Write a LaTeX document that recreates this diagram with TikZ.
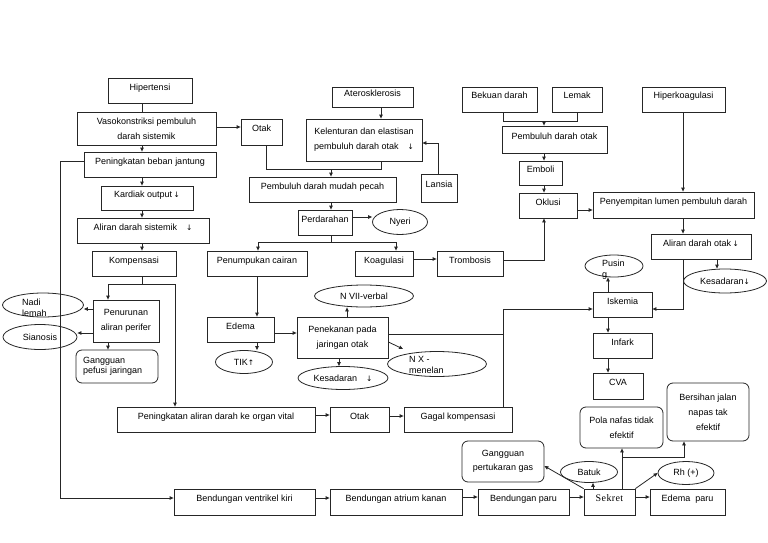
\documentclass[tikz,border=0pt]{standalone}
\usepackage{fontspec}
\setmainfont{Liberation Sans}
\newfontfamily\symf{DejaVu Sans}
\newfontfamily\serf{Liberation Serif}
\usetikzlibrary{arrows.meta,shapes.geometric}
\newcommand\dnarr{{\symf\fontsize{7.5}{7.5}\selectfont ↓}}
\newcommand\uparr{{\symf\fontsize{7.5}{7.5}\selectfont ↑}}
\tikzset{
  every node/.style={font=\fontsize{9}{15}\selectfont},
  bbase/.style={draw=black!85, line width=0.8pt, rectangle, inner sep=1pt, align=center},
  box/.style={text height=7pt, text depth=8pt},
  rbox/.style={rounded corners=6pt},
  ell/.style={draw=black!85, ellipse, inner sep=0pt, line width=0.8pt, align=center},
  arr/.style={-{Triangle[length=4pt,width=3.5pt]}, line width=0.8pt, draw=black!85},
  ln/.style={line width=0.8pt, draw=black!85},
  freetext/.style={anchor=north west, inner sep=0pt, align=left, font=\fontsize{9}{10.7}\selectfont}
}
\newcommand\bx[7][box]{\node[bbase,minimum width={#5-#3},minimum height={#6-#4},#1] (#2) at ({(#3+#5)/2},{(#4+#6)/2}) {#7};}
\newcommand\el[7][]{\node[ell,minimum width={#5},minimum height={#6},#1] (#2) at (#3,#4) {#7};}
\begin{document}
\begin{tikzpicture}[x=1pt,y=-1pt]
\fill[white] (0,0) rectangle (768,543);
\useasboundingbox (0,0) rectangle (768,543);
% left column
\bx{hip}{108}{78}{192}{103}{Hipertensi}
\bx[]{vaso}{77}{112}{216}{145}{Vasokonstriksi pembuluh\\darah sistemik}
\bx{otaka}{241}{119}{282}{145}{Otak}
\bx{peb}{84}{152}{216}{177}{Peningkatan beban jantung}
\bx{kard}{101}{186}{193}{210}{Kardiak output\,\dnarr}
\bx{ads}{77}{218}{209}{243}{Aliran darah sistemik\quad\dnarr}
\bx{komp}{92}{251}{176}{276}{Kompensasi}
\bx[]{pen}{93}{300}{159}{342}{Penurunan\\aliran perifer}
\bx[rbox,text width=68pt,align=left,font=\fontsize{9}{10.5}\selectfont]{gpj}{76}{350}{158}{383}{Gangguan\\pefusi jaringan}
\el{nadi}{43}{305}{81}{24}{}
\node[freetext] (nadit) at (22,299) {Nadi\\lemah};
\el{sia}{40}{337}{74}{25}{Sianosis}
\bx{pad}{117}{407}{315}{432}{Peningkatan aliran darah ke organ vital}
\bx{otakb}{330}{407}{389}{432}{Otak}
\bx{gagal}{404}{407}{512}{432}{Gagal kompensasi}
% middle
\bx{ater}{332}{87}{413}{107}{Aterosklerosis}
\bx[]{kel}{306}{119}{422}{161}{Kelenturan dan elastisan\\pembuluh darah otak\quad\dnarr}
\bx{lansia}{421}{174}{457}{202}{Lansia}
\bx{mpec}{249}{177}{396}{202}{Pembuluh darah mudah pecah}
\bx{perd}{298}{210}{352}{235}{Perdarahan}
\el{nyeri}{400}{222}{55}{25}{Nyeri}
\bx{pcair}{207}{251}{307}{276}{Penumpukan cairan}
\bx{koag}{355}{251}{413}{276}{Koagulasi}
\bx{tromb}{437}{251}{503}{276}{Trombosis}
\bx{edema}{207}{317}{274}{342}{Edema}
\el{tik}{244}{362}{57}{23}{TIK\uparr}
\bx[]{pnk}{297}{317}{388}{358}{Penekanan pada\\jaringan otak}
\el{nvii}{364}{296}{99}{22}{N VII-verbal}
\el{nx}{437}{364}{99}{25}{}
\node[freetext] (nxt) at (409,356.5) {N X -\\menelan};
\el{kesa}{343}{378}{90}{23}{Kesadaran\quad\dnarr}
% right
\bx{bek}{462}{87}{537}{112}{Bekuan darah}
\bx{lemak}{552}{87}{602}{112}{Lemak}
\bx{pdo}{502}{126}{607}{153}{Pembuluh darah otak}
\bx{emb}{519}{161}{562}{185}{Emboli}
\bx{okl}{519}{193}{577}{218}{Oklusi}
\bx{peny}{593}{192}{754}{218}{Penyempitan lumen pembuluh darah}
\bx{hiper}{642}{87}{725}{112}{Hiperkoagulasi}
\bx{ado}{651}{234}{751}{259}{Aliran darah otak\,\dnarr}
\el{kesb}{725}{281}{83}{24}{Kesadaran\dnarr}
\el{pus}{614}{266}{58}{22}{}
\node[freetext,font=\fontsize{9}{11.7}\selectfont] (pust) at (602,259.3) {Pusin\\g};
\bx{isk}{593}{292}{652}{317}{Iskemia}
\bx{inf}{593}{333}{652}{358}{Infark}
\bx{cva}{593}{373}{643}{399}{CVA}
% bottom
\bx{bvk}{174}{489}{315}{515}{Bendungan ventrikel kiri}
\bx{bak}{330}{489}{462}{515}{Bendungan atrium kanan}
\bx{bpar}{478}{489}{569}{515}{Bendungan paru}
\bx{sek}{584}{489}{635}{515}{\serf\fontsize{10}{15}\selectfont S\kern0.4pt e\kern0.4pt k\kern0.4pt r\kern0.4pt e\kern0.4pt t}
\bx{edp}{650}{489}{725}{515}{Edema\ \ paru}
\bx[rbox,font=\fontsize{9}{14}\selectfont]{ggas}{462}{441}{544}{482}{Gangguan\\pertukaran gas}
\el{batuk}{589}{472}{57}{21}{Batuk}
\bx[rbox]{pola}{580}{407}{663}{448}{Pola nafas tidak\\efektif}
\bx[rbox]{bers}{667}{383}{749}{441}{Bersihan jalan\\napas tak\\efektif}
\el{rh}{686}{473}{56}{23}{Rh (+)}
% junction coordinates
\coordinate (kj) at (142,284);
\coordinate (gj) at (503,309);
\coordinate (oj) at (331,169);
\coordinate (pj) at (331,242);
\coordinate (nxtip) at (403,349);
\coordinate (bj) at (544,121);
\coordinate (sj) at (622,457);
% connectors left
\draw[ln] (hip.south -| 142,0) -- (vaso.north -| 142,0);
\draw[arr] (vaso.east |- 0,127) -- (otaka.west |- 0,127);
\draw[arr] (vaso.south -| 142,0) -- (peb.north -| 142,0);
\draw[arr] (peb.west |- 0,161) -- (60,161) |- (bvk.west |- 0,498);
\draw[arr] (peb.south -| 142,0) -- (kard.north -| 142,0);
\draw[arr] (kard.south -| 142,0) -- (ads.north -| 142,0);
\draw[arr] (ads.south -| 142,0) -- (komp.north -| 142,0);
\draw[arr] (komp.south -| kj) -- (kj) -| (pen.north -| 108,0);
\draw[arr] (kj) -| (pad.north -| 175,0);
\draw[arr] (pen.west |- 0,309) -- (nadi.east |- 0,309);
\draw[arr] (pen.west |- 0,333) -- (sia.east |- 0,333);
\draw[arr] (pen.south -| 108,0) -- (gpj.north -| 108,0);
\draw[arr] (pad.east |- 0,415) -- (otakb.west |- 0,415);
\draw[arr] (otakb.east |- 0,416) -- (gagal.west |- 0,416);
\draw[arr] (gagal.north -| gj) -- (gj) -- (isk.west |- gj);
\draw[ln] (pnk.east |- 0,334) -- (gj |- 0,334);
% connectors middle
\draw[arr] (ater.south -| 381,0) -- (kel.north -| 381,0);
\draw[arr] (lansia.north -| 438,0) |- (kel.east |- 0,143);
\draw[ln] (otaka.south -| 266,0) |- (381,169) -- (kel.south -| 381,0);
\draw[arr] (oj) -- (mpec.north -| oj);
\draw[arr] (mpec.south -| oj) -- (perd.north -| oj);
\draw[arr] (perd.east |- 0,217) -- (nyeri.west |- 0,217);
\draw[ln] (perd.south -| pj) -- (pj);
\draw[arr] (pj) -| (pcair.north -| 258,0);
\draw[arr] (pj) -| (koag.north -| 396,0);
\draw[arr] (koag.east |- 0,259) -- (tromb.west |- 0,259);
\draw[arr] (tromb.east |- 0,260) -| (okl.south -| bj);
\draw[arr] (pcair.south -| 257,0) -- (edema.north -| 257,0);
\draw[arr] (edema.south -| 257,0) -- (tik.north -| 257,0);
\draw[arr] (edema.east |- 0,333) -- (pnk.west |- 0,333);
\draw[arr] (pnk.north -| 347,0) -- (nvii.south -| 347,0);
\draw[arr] (pnk.east |- 0,342) -- (nxtip);
\draw[arr] (pnk.south -| 339,0) -- (kesa.north -| 339,0);
% connectors right
\draw[ln] (bek.south -| 503,0) |- (577,121) -- (lemak.south);
\draw[arr] (bj) -- (pdo.north -| bj);
\draw[arr] (pdo.south -| bj) -- (emb.north -| bj);
\draw[arr] (emb.south -| bj) -- (okl.north -| bj);
\draw[arr] (okl.east |- 0,210) -- (peny.west |- 0,210);
\draw[arr] (hiper.south -| 683,0) -- (peny.north -| 683,0);
\draw[arr] (peny.south -| 683,0) -- (ado.north -| 683,0);
\draw[arr] (ado.south -| 717,0) -- (kesb.north -| 717,0);
\draw[arr] (ado.south -| 683,0) |- (isk.east |- gj);
\draw[arr] (isk.north -| 608,0) -- (pus.south -| 608,0);
\draw[arr] (isk.south -| 608,0) -- (inf.north -| 608,0);
\draw[arr] (inf.south -| 608,0) -- (cva.north -| 608,0);
% connectors bottom
\draw[arr] (bvk.east |- 0,498) -- (bak.west |- 0,498);
\draw[arr] (bak.east |- 0,497) -- (bpar.west |- 0,497);
\draw[arr] (bpar.east |- 0,497) -- (sek.west |- 0,497);
\draw[arr] (sek.east |- 0,497) -- (edp.west |- 0,497);
\draw[arr] (sek.north west) -- (ggas.east |- 0,466);
\draw[arr] (sek.north -| 593,0) -- (batuk.south -| 593,0);
\draw[arr] (sek.north -| sj) -- (pola.south -| sj);
\draw[arr] (sj) -| (bers.south -| 684,0);
\draw[arr] (sek.north east) -- (rh.west);
\end{tikzpicture}
\end{document}
